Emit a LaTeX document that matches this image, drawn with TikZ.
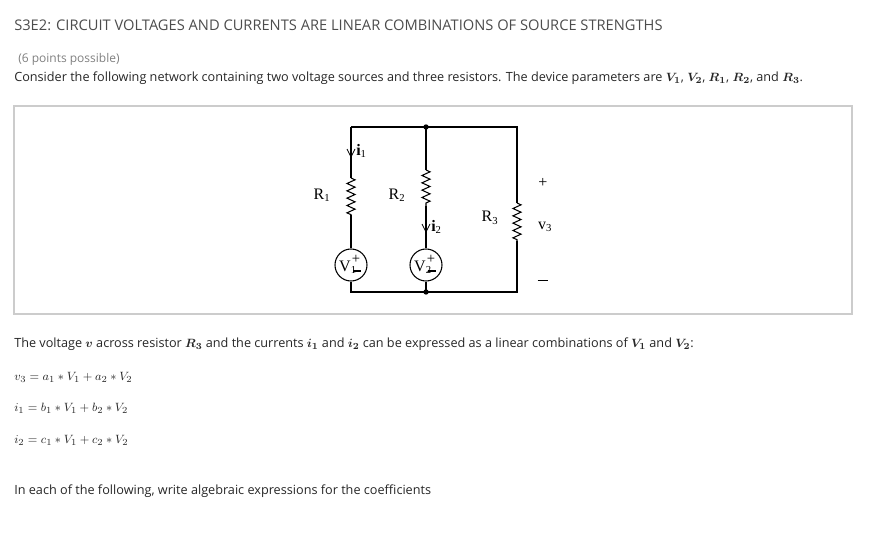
\documentclass[tikz,border=0pt]{standalone}
\usepackage{amsmath}
\usepackage{fontspec}
\setmainfont{Open Sans}
\newfontfamily\circfont{Liberation Serif}
\usetikzlibrary{decorations.pathmorphing,arrows.meta,calc}
\begin{document}
\begin{tikzpicture}[x=0.75pt,y=-0.75pt,
  txt/.style={anchor=west,inner sep=0pt,font=\fontsize{9.5pt}{11pt}\selectfont,text=black!85},
  wire/.style={line width=0.8pt},
  res/.style={wire,decorate,decoration={zigzag,segment length=5.5pt,amplitude=3pt}},
  src/.style={circle,draw,line width=0.8pt,minimum size=24pt,inner sep=0pt},
  dot/.style={circle,fill,inner sep=0pt,minimum size=4pt},
  lab/.style={font=\circfont\fontsize{12pt}{12pt}\selectfont,inner sep=0pt}]
\useasboundingbox (0,0) rectangle (878,552);
\node[txt,font=\fontsize{11pt}{13pt}\selectfont,text=black!70] (title) at (14,25) {S3E2: CIRCUIT VOLTAGES AND CURRENTS ARE LINEAR COMBINATIONS OF SOURCE STRENGTHS};
\node[txt,text=black!50,font=\fontsize{9pt}{11pt}\selectfont] (pts) at (18,59) {(6 points possible)};
\node[txt] (intro) at (14,78) {Consider the following network containing two voltage sources and three resistors. The device parameters are $\boldsymbol{V_1}$, $\boldsymbol{V_2}$, $\boldsymbol{R_1}$, $\boldsymbol{R_2}$, and $\boldsymbol{R_3}$.};
\draw[black!20,line width=0.8pt] (14,106) rectangle (852,314);
% circuit
\coordinate (tl) at (351,127); \node[dot] (tm) at (426,127) {}; \coordinate (tr) at (517,127);
\coordinate (bl) at (351,292); \node[dot] (bm) at (426,292) {}; \coordinate (br) at (517,292);
\coordinate (r1a) at (351,178); \coordinate (r1b) at (351,215);
\coordinate (r2a) at (426,170); \coordinate (r2b) at (426,206);
\coordinate (r3a) at (517,203); \coordinate (r3b) at (517,241);
\node[src] (v1) at (351,265) {};
\node[src] (v2) at (426,265) {};
\draw[wire] (tl)--(tm.center)--(tr)--(r3a); \draw[res] (r3a)--(r3b); \draw[wire] (r3b)--(br)--(bm.center)--(bl)--(v1.south);
\draw[wire] (tl)--(r1a); \draw[res] (r1a)--(r1b); \draw[wire] (r1b)--(v1.north);
\draw[wire] (tm.center)--(r2a); \draw[res] (r2a)--(r2b); \draw[wire] (r2b)--(v2.north); \draw[wire] (v2.south)--(bm.center);
\node[lab] at ($(v1)+(-3,2)$) {V\textsubscript{1}};
\node[lab] at ($(v2)+(-3,2)$) {V\textsubscript{2}};
\node[lab,font=\circfont\fontsize{11pt}{11pt}\selectfont] at ($(v1)+(5,-6)$) {+};
\node[lab,font=\circfont\fontsize{11pt}{11pt}\selectfont] at ($(v2)+(5,-6)$) {+};
\draw[wire] ($(v1)+(2,6)$)--($(v1)+(10,6)$);
\draw[wire] ($(v2)+(2,6)$)--($(v2)+(10,6)$);
\node[lab] (lr1) at (322,195) {R\textsubscript{1}};
\node[lab] (lr2) at (397,195) {R\textsubscript{2}};
\node[lab] (lr3) at (490,218) {R\textsubscript{3}};
\draw[line width=0.6pt] (347,149)--(351,157)--(355,149);
\node[lab,anchor=west] (i1) at (356,151) {\textbf{i}\textsubscript{1}};
\draw[line width=0.6pt] (422,224)--(426,232)--(430,224);
\node[lab,anchor=west] (i2) at (431,227) {\textbf{i}\textsubscript{2}};
\node[lab] (pl) at (543,183) {+};
\node[lab] (v3) at (545,227) {v\textsubscript{3}};
\node[lab] (mi) at (543,280) {\rule{8pt}{0.7pt}};
\node[txt] (t2) at (14,344) {The voltage $\boldsymbol{v}$ across resistor $\boldsymbol{R_3}$ and the currents $\boldsymbol{i_1}$ and $\boldsymbol{i_2}$ can be expressed as a linear combinations of $\boldsymbol{V_1}$ and $\boldsymbol{V_2}$:};
\node[txt] (e1) at (14,377) {$v_3=a_1 * V_1 + a_2 * V_2$};
\node[txt] (e2) at (14,408) {$i_1=b_1 * V_1 + b_2 * V_2$};
\node[txt] (e3) at (14,440) {$i_2=c_1 * V_1 + c_2 * V_2$};
\node[txt] (t3) at (14,491) {In each of the following, write algebraic expressions for the coefficients};
\end{tikzpicture}
\end{document}
